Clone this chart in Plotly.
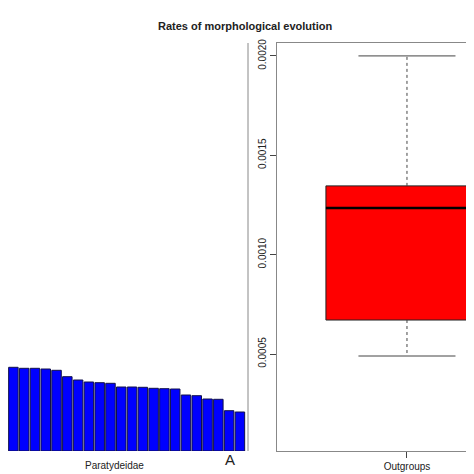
import plotly.graph_objects as go

# left panel: rates per taxon (only the right end of the panel is visible)
bar_pos = list(range(1, 23))
bar_rates = [83.7, 82.7, 82.7, 82.0, 80.7, 74.3, 71.0, 69.0, 68.3, 67.7, 64.0,
             64.0, 63.7, 62.7, 62.3, 62.0, 56.0, 55.3, 52.0, 51.7, 40.3, 39.0]

# right panel: outgroups boxplot
box_min = 0.00049
box_q1 = 0.000671
box_med = 0.001235
box_q3 = 0.001346
box_max = 0.0020
y_ticks = [0.0005, 0.0010, 0.0015, 0.0020]

H = 474.0
y0d, y1d = 1 - 443 / H, 1 - 35 / H
grey = "#444444"

fig = go.Figure()

fig.add_trace(go.Bar(
    x=bar_pos, y=bar_rates, marker=dict(color="#0000ff", line=dict(color="#10104a", width=1)),
    xaxis="x", yaxis="y", showlegend=False,
))

hw, cw = 0.593, 0.355
# box body
fig.add_trace(go.Scatter(
    x=[-hw, hw, hw, -hw, -hw], y=[box_q1, box_q1, box_q3, box_q3, box_q1],
    fill="toself", fillcolor="#ff0000", mode="lines", line=dict(color="#222222", width=1),
    xaxis="x2", yaxis="y2", showlegend=False,
))
# median
fig.add_trace(go.Scatter(
    x=[-hw, hw], y=[box_med, box_med], mode="lines", line=dict(color="black", width=2.5),
    xaxis="x2", yaxis="y2", showlegend=False,
))
# whiskers
for a, b in [(box_q3, box_max), (box_q1, box_min)]:
    fig.add_trace(go.Scatter(
        x=[0, 0], y=[a, b], mode="lines", line=dict(color=grey, width=1, dash="dot"),
        xaxis="x2", yaxis="y2", showlegend=False,
    ))
for v in [box_max, box_min]:
    fig.add_trace(go.Scatter(
        x=[-cw, cw], y=[v, v], mode="lines", line=dict(color=grey, width=1),
        xaxis="x2", yaxis="y2", showlegend=False,
    ))

fig.update_layout(
    width=474, height=474, margin=dict(l=0, r=0, t=0, b=0, autoexpand=False),
    paper_bgcolor="white", plot_bgcolor="white",
    font=dict(family="Liberation Sans, Arial, sans-serif", color="#222222"),
    bargap=0.12,
    xaxis=dict(domain=[0, 240 / H], range=[0.5, 22.75], visible=False),
    yaxis=dict(domain=[y0d, y1d], range=[0, 408], visible=False),
    xaxis2=dict(domain=[269 / H, 1], range=[-0.951, 0.549], anchor="y2", automargin=False,
                showline=True, linecolor="#888888", mirror=True,
                tickvals=[0], ticktext=["Outgroups"], ticks="outside", ticklen=6,
                tickcolor=grey, tickfont=dict(size=10), showgrid=False, zeroline=False),
    yaxis2=dict(domain=[y0d, y1d], range=[0.000012, 0.002065], anchor="x2", automargin=False,
                showline=True, linecolor="#888888",
                tickvals=y_ticks, ticktext=["0.0005", "0.0010", "0.0015", "0.0020"],
                tickangle=-90, ticks="outside", ticklen=6, tickcolor=grey,
                tickfont=dict(size=10), showgrid=False, zeroline=False),
    shapes=[dict(type="line", xref="paper", yref="paper", x0=240 / H, x1=240 / H,
                 y0=y0d, y1=y1d, line=dict(color="#888888", width=1))],
    annotations=[
        dict(text="<b>Rates of morphological evolution</b>", x=0.5, y=1 - 10 / H,
             xref="paper", yref="paper", showarrow=False, font=dict(size=11)),
        dict(text="Paratydeidae", x=75 / H, y=1 - 465 / H, xref="paper", yref="paper",
             showarrow=False, font=dict(size=10)),
        dict(text="A", x=222 / H, y=1 - 462 / H, xref="paper", yref="paper",
             showarrow=False, font=dict(size=15)),
        dict(text="W", x=461 / H, y=1 - 88 / H, xref="paper", yref="paper",
             xanchor="left", showarrow=False, font=dict(size=11)),
    ],
)

fig.write_html("out.html")
